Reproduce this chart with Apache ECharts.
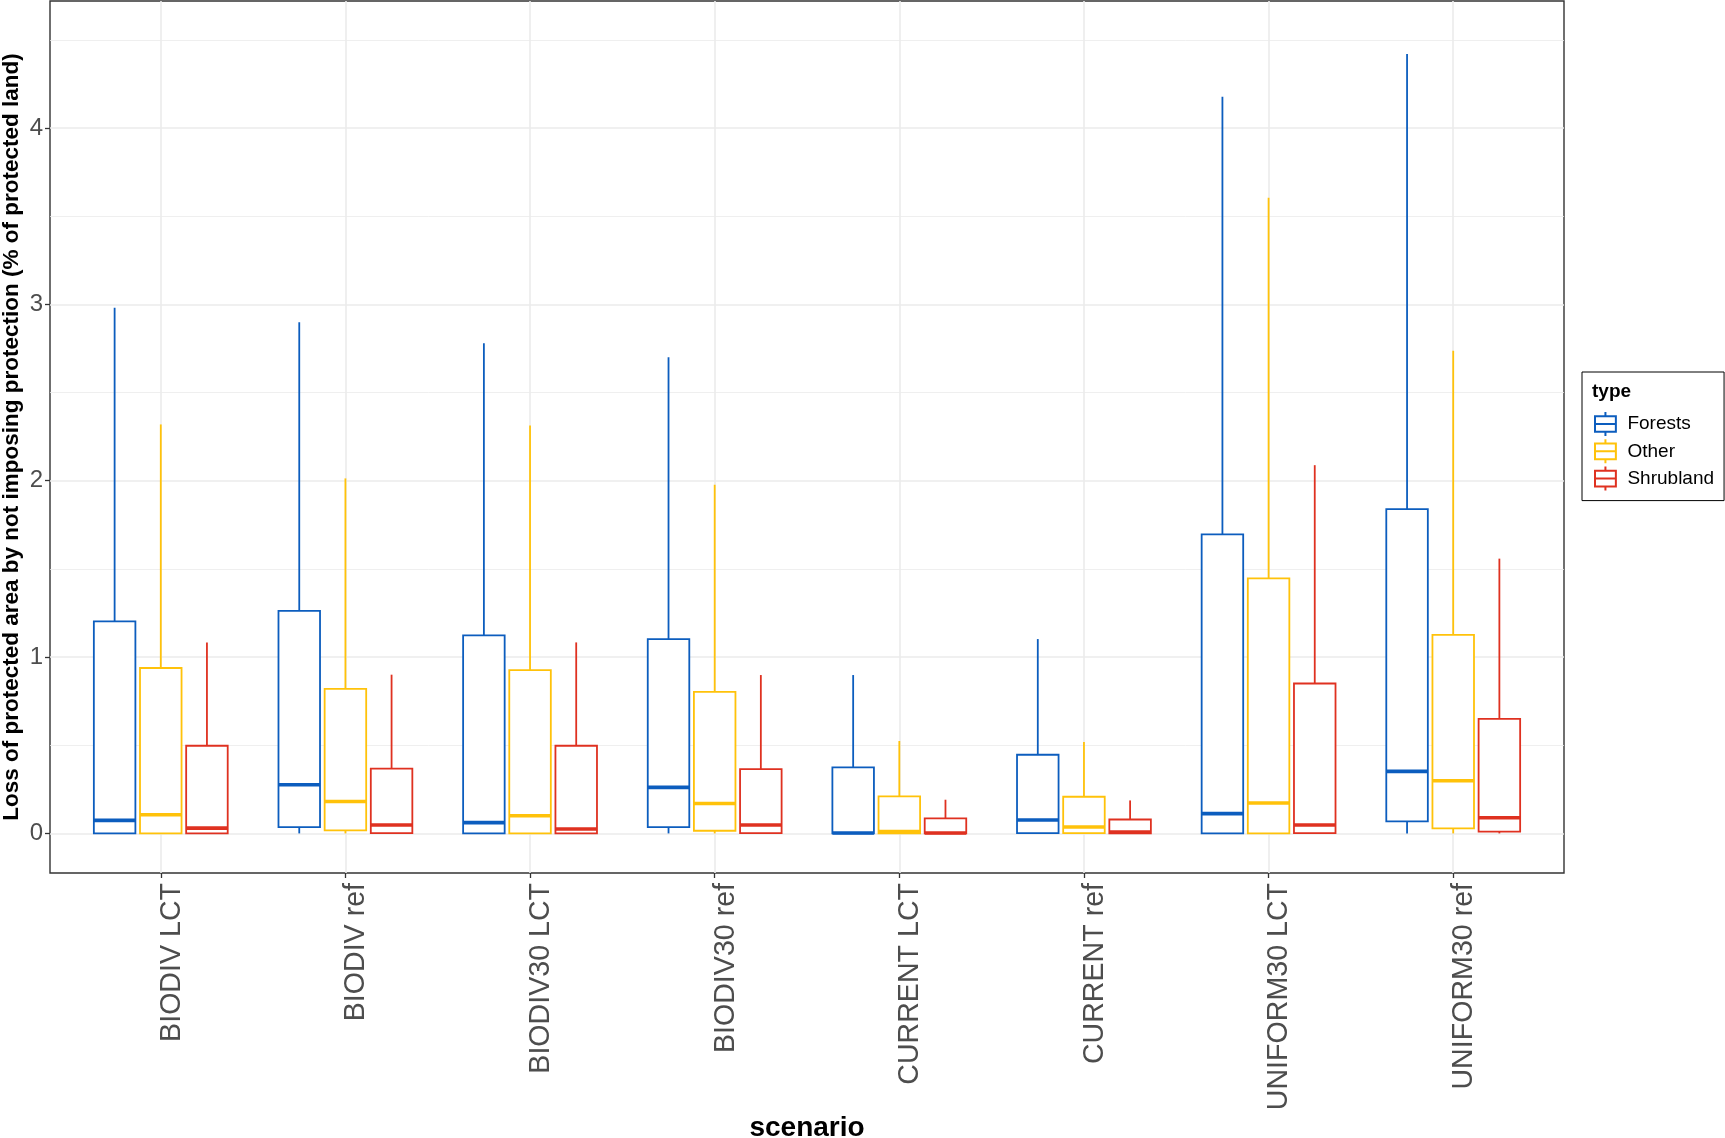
<!DOCTYPE html>
<html>
<head>
<meta charset="utf-8">
<script src="https://cdn.jsdelivr.net/npm/echarts@6.0.0/dist/echarts.min.js"></script>
<style>
html, body { margin: 0; padding: 0; background: #fff; }
#chart { width: 1725px; height: 1138px; }
</style>
</head>
<body>
<div id="chart"></div>
<script>
const scenarios = ['BIODIV LCT', 'BIODIV ref', 'BIODIV30 LCT', 'BIODIV30 ref', 'CURRENT LCT', 'CURRENT ref', 'UNIFORM30 LCT', 'UNIFORM30 ref'];
const types = ['Forests', 'Other', 'Shrubland'];
const colors = ['#0C5DBE', '#FFC20A', '#DF3120'];

// per scenario: [lower whisker, Q1, median, Q3, upper whisker]
const forests = [
  [0, 0, 0.074, 1.202, 2.98],
  [0, 0.036, 0.276, 1.262, 2.899],
  [0, 0, 0.061, 1.123, 2.78],
  [0, 0.036, 0.261, 1.102, 2.70],
  [0, 0, 0.002, 0.374, 0.898],
  [0, 0.002, 0.076, 0.446, 1.102],
  [0, 0, 0.112, 1.696, 4.177],
  [0, 0.068, 0.352, 1.839, 4.42]
];
const other = [
  [0, 0, 0.106, 0.938, 2.319],
  [0, 0.017, 0.181, 0.82, 2.013],
  [0, 0, 0.10, 0.926, 2.313],
  [0, 0.015, 0.17, 0.803, 1.977],
  [0, 0, 0.01, 0.21, 0.524],
  [0, 0.002, 0.036, 0.208, 0.518],
  [0, 0, 0.172, 1.446, 3.604],
  [0, 0.028, 0.299, 1.126, 2.737]
];
const shrubland = [
  [0, 0, 0.03, 0.497, 1.083],
  [0, 0.002, 0.048, 0.367, 0.9],
  [0, 0, 0.025, 0.497, 1.083],
  [0, 0.002, 0.048, 0.365, 0.898],
  [0, 0, 0.002, 0.085, 0.191],
  [0, 0, 0.008, 0.079, 0.187],
  [0, 0.002, 0.048, 0.85, 2.088],
  [0, 0.01, 0.089, 0.65, 1.558]
];
const yTicks = [0, 1, 2, 3, 4];
const yMinor = [0.5, 1.5, 2.5, 3.5, 4.5];

const dodge = [-0.25, 0, 0.25];
const boxWidth = 0.225;
const font = 'Liberation Sans, Arial, Helvetica, sans-serif';
const legendIcon = 'path://M11,0 L11,4 M1,4 L21,4 L21,19 L1,19 Z M1,11.5 L21,11.5 M11,19 L11,23';

const chart = echarts.init(document.getElementById('chart'));

// 箱线图绘制
function makeRender(offset, color) {
  return function (params, api) {
    const x = api.value(0) + offset;
    const lo = api.coord([x, api.value(1)]);
    const q1 = api.coord([x, api.value(2)]);
    const med = api.coord([x, api.value(3)]);
    const q3 = api.coord([x, api.value(4)]);
    const hi = api.coord([x, api.value(5)]);
    const w = api.size([boxWidth, 0])[0];
    const cx = q1[0];
    return {
      type: 'group',
      children: [
        { type: 'line', shape: { x1: cx, y1: q3[1], x2: cx, y2: hi[1] }, style: { stroke: color, lineWidth: 1.8 } },
        { type: 'line', shape: { x1: cx, y1: lo[1], x2: cx, y2: q1[1] }, style: { stroke: color, lineWidth: 1.8 } },
        { type: 'rect', shape: { x: cx - w / 2, y: q3[1], width: w, height: q1[1] - q3[1] }, style: { fill: '#fff', stroke: color, lineWidth: 1.8 } },
        { type: 'line', shape: { x1: cx - w / 2, y1: med[1], x2: cx + w / 2, y2: med[1] }, style: { stroke: color, lineWidth: 3.6 } }
      ]
    };
  };
}

const allData = [forests, other, shrubland];
const boxSeries = types.map((name, k) => ({
  name: name,
  type: 'custom',
  z: 3,
  itemStyle: { color: colors[k] },
  renderItem: makeRender(dodge[k], colors[k]),
  encode: { x: 0, y: [1, 2, 3, 4, 5] },
  data: allData[k].map((d, i) => [i].concat(d))
}));

// 网格线
const gridSeries = {
  type: 'line',
  data: [],
  silent: true,
  markLine: {
    silent: true,
    z: 1,
    symbol: ['none', 'none'],
    label: { show: false },
    animation: false,
    data: []
      .concat(yMinor.map(v => ({ yAxis: v, lineStyle: { color: '#EBEBEB', width: 0.8, type: 'solid' } })))
      .concat(yTicks.map(v => ({ yAxis: v, lineStyle: { color: '#EBEBEB', width: 1.6, type: 'solid' } })))
      .concat(scenarios.map((s, i) => ({ xAxis: i, lineStyle: { color: '#EBEBEB', width: 1.6, type: 'solid' } })))
  }
};

const option = {
  animation: false,
  backgroundColor: '#fff',
  title: {
    text: 'type',
    left: 1592,
    top: 382,
    padding: 0,
    textStyle: { fontFamily: font, fontSize: 19, fontWeight: 'bold', color: '#000' }
  },
  legend: {
    orient: 'vertical',
    left: 1582,
    top: 372,
    padding: [39, 10, 9, 12],
    borderColor: '#000',
    borderWidth: 1,
    itemWidth: 22,
    itemHeight: 24,
    itemGap: 1.3,
    textStyle: { fontFamily: font, fontSize: 19, color: '#000', padding: [0, 0, 0, 6] },
    data: types.map((t, k) => ({
      name: t,
      icon: legendIcon,
      itemStyle: { color: 'transparent', borderColor: colors[k], borderWidth: 2 }
    }))
  },
  grid: {
    left: 50,
    right: 161,
    top: 1,
    bottom: 265,
    show: true,
    borderColor: '#333',
    borderWidth: 1.4,
    backgroundColor: 'transparent',
    containLabel: false,
    outerBoundsMode: 'none'
  },
  xAxis: {
    type: 'value',
    min: -0.6,
    max: 7.6,
    name: 'scenario',
    nameLocation: 'middle',
    nameGap: 241.5,
    nameMoveOverlap: false,
    nameTextStyle: { fontFamily: font, fontSize: 28, fontWeight: 'bold', color: '#000' },
    axisLine: { show: false, onZero: false },
    axisTick: { show: true, length: 5, customValues: scenarios.map((s, i) => i), lineStyle: { color: '#333', width: 1.3 } },
    splitLine: { show: false },
    axisLabel: {
      customValues: scenarios.map((s, i) => i),
      formatter: v => scenarios[Math.round(v)],
      rotate: 90,
      margin: 10,
      verticalAlign: 'top',
      lineHeight: 22,
      fontFamily: font,
      fontSize: 28.6,
      color: '#4D4D4D'
    }
  },
  yAxis: {
    type: 'value',
    min: -0.2245,
    max: 4.72,
    name: 'Loss of protected area by not imposing protection (% of protected land)',
    nameLocation: 'middle',
    nameGap: 27,
    nameMoveOverlap: false,
    nameTextStyle: { fontFamily: font, fontSize: 22.5, fontWeight: 'bold', color: '#000' },
    axisLine: { show: false, onZero: false },
    axisTick: { show: true, length: 5, customValues: yTicks, lineStyle: { color: '#333', width: 1.3 } },
    splitLine: { show: false },
    axisLabel: {
      customValues: yTicks,
      margin: 7,
      fontFamily: font,
      fontSize: 24,
      color: '#4D4D4D'
    }
  },
  series: [gridSeries].concat(boxSeries)
};

chart.setOption(option);
</script>
</body>
</html>
